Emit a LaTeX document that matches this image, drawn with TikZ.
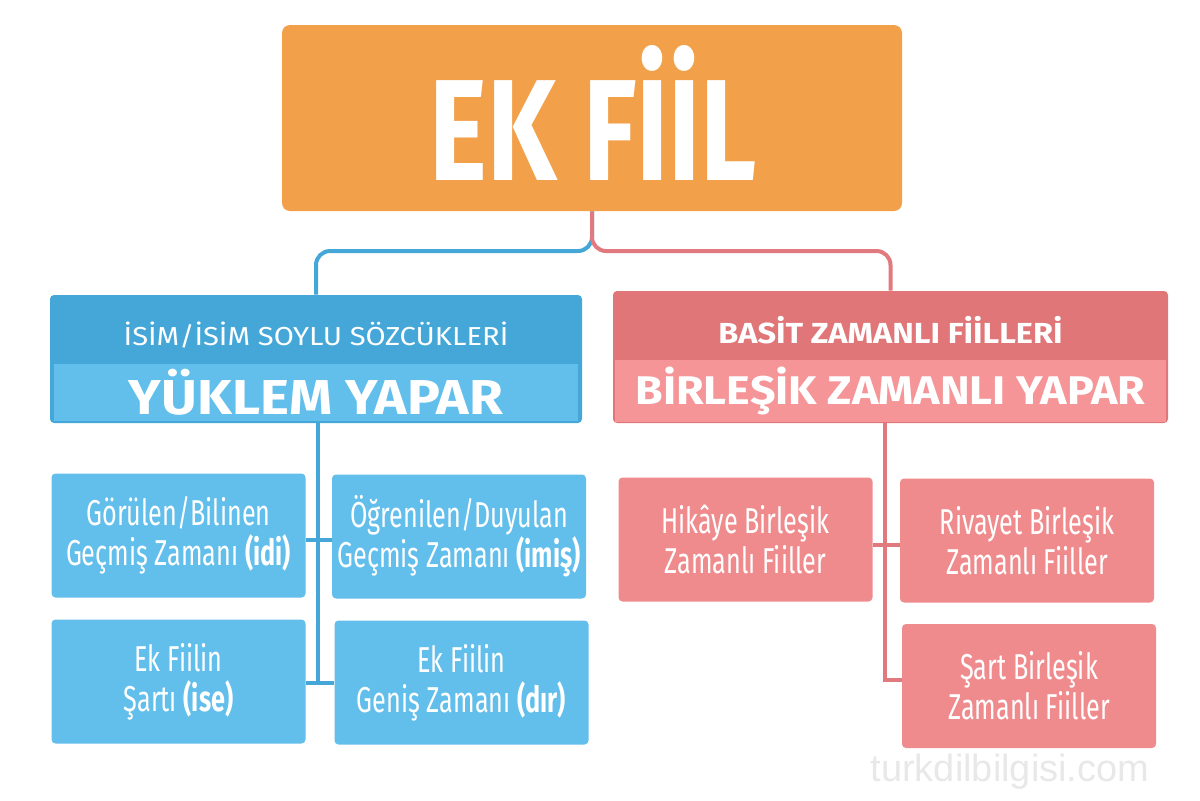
\documentclass[tikz,border=0pt]{standalone}
\usepackage{fontspec}
\setmainfont{Fira Sans}
\newfontfamily\boxfont[FakeStretch=0.70]{Fira Sans}
\newfontfamily\headfont[FakeStretch=1.12]{Fira Sans}
\newfontfamily\markfont{Liberation Sans}
\usetikzlibrary{positioning}

\definecolor{ekorange}{HTML}{F2A04A}
\definecolor{bluedark}{HTML}{45A7D8}
\definecolor{bluelight}{HTML}{62BEEB}
\definecolor{pinkdark}{HTML}{E07677}
\definecolor{pinklight}{HTML}{F59597}
\definecolor{pinkbox}{HTML}{F08B8D}
\definecolor{pinkline}{HTML}{E07A7E}
\definecolor{markgray}{HTML}{E8E8E8}

\tikzset{
  leaf/.style={rounded corners=2pt, inner sep=0pt, minimum width=127pt,
    minimum height=62pt, align=center, text=white,
    font=\boxfont\fontsize{18}{20}\selectfont},
  blueleaf/.style={leaf, fill=bluelight},
  pinkleaf/.style={leaf, fill=pinkbox},
  headtext/.style={text=white, inner sep=0pt},
  blueline/.style={draw=bluedark, line width=2pt, rounded corners=7pt},
  pinkline/.style={draw=pinkline, line width=2pt, rounded corners=7pt}
}

\begin{document}
\begin{tikzpicture}[
  x=0.5pt, y=-0.5pt
]
\useasboundingbox (0,0) rectangle (1200,800);

% title
\node [fill=ekorange, rounded corners=4pt, minimum width=310pt, minimum height=93pt] (title) at (592,118) {};
\node [inner sep=0pt, text=white] (titletext) at (593.5,112.5)
  {\resizebox{163.5pt}{67.5pt}{\bfseries EK FİİL}};

% left header
\node [fill=bluedark, rounded corners=2pt, minimum width=266pt, minimum height=64pt] (lhead) at (316,359) {};
\node [fill=bluelight, minimum width=262pt, minimum height=28.5pt, headtext,
  font=\headfont\bfseries\fontsize{24.5}{26}\selectfont] (lband) at (316,392) {YÜKLEM YAPAR};
\node [headtext, font=\headfont\fontsize{13}{15}\selectfont] (ltop) at (316,335) {İSİM/İSİM SOYLU SÖZCÜKLERİ};

% right header
\node [fill=pinkdark, rounded corners=2pt, minimum width=277.5pt, minimum height=66pt] (rhead) at (890.5,357) {};
\node [fill=pinklight, minimum width=275.5pt, minimum height=31pt, headtext,
  font=\headfont\bfseries\fontsize{20}{22}\selectfont] (rband) at (890.5,391) {BİRLEŞİK ZAMANLI YAPAR};
\node [headtext, font=\headfont\bfseries\fontsize{14.5}{16}\selectfont] (rtop) at (890.5,330) {BASİT ZAMANLI FİİLLERİ};

% left leaves
\node [blueleaf] (idi) at (178.5,535.5) {Görülen/Bilinen\\Geçmiş Zamanı \textbf{(idi)}};
\node [blueleaf] (imis) at (459,536.5) {Öğrenilen/Duyulan\\Geçmiş Zamanı \textbf{(imiş)}};
\node [blueleaf] (ise) at (178.5,681.5) {Ek Fiilin\\Şartı \textbf{(ise)}};
\node [blueleaf] (dir) at (461.5,682.5) {Ek Fiilin\\Geniş Zamanı \textbf{(dır)}};

% right leaves
\node [pinkleaf] (hikaye) at (745.5,539.5) {Hikâye Birleşik\\Zamanlı Fiiller};
\node [pinkleaf] (rivayet) at (1027,540.5) {Rivayet Birleşik\\Zamanlı Fiiller};
\node [pinkleaf] (sart) at (1029,686) {Şart Birleşik\\Zamanlı Fiiller};

% connectors
\coordinate (split) at (592,251);
\coordinate (ltrunk) at (318,683);
\coordinate (lmid) at (318,540);
\coordinate (rtrunk) at (885,680);
\coordinate (rmid) at (885,545);

\draw [blueline] (title.south) |- (lhead.north |- split) -- (lhead.north);
\draw [pinkline] (title.south) |- (rhead.north |- split) -- (rhead.north);

\draw [blueline, rounded corners=0pt] (ltrunk |- lhead.south) -- (ltrunk);
\draw [blueline, rounded corners=0pt] (ise.east |- ltrunk) -- (dir.west |- ltrunk);
\draw [blueline, rounded corners=0pt] (idi.east |- lmid) -- (imis.west |- lmid);

\draw [pinkline, rounded corners=0pt] (rtrunk |- rhead.south) -- (rtrunk) -- (sart.west |- rtrunk);
\draw [pinkline, rounded corners=0pt] (hikaye.east |- rmid) -- (rivayet.west |- rmid);

% watermark
\node [text=markgray, inner sep=0pt, font=\markfont\fontsize{19}{21}\selectfont] (mark) at (1010,772) {turkdilbilgisi.com};
\end{tikzpicture}
\end{document}
